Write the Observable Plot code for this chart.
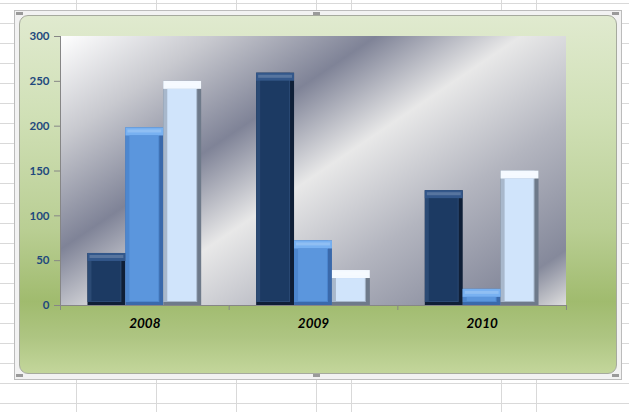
<!DOCTYPE html>
<html>
<head>
<meta charset="utf-8">
<script src="https://cdn.jsdelivr.net/npm/d3@7"></script>
<script src="https://cdn.jsdelivr.net/npm/@observablehq/plot@0.6"></script>
<style>
  html, body { margin: 0; padding: 0; }
  body {
    width: 629px; height: 412px; position: relative; overflow: hidden;
    background: #fff repeating-linear-gradient(to bottom, transparent 0px, transparent 3px, #d9d9d9 3px, #d9d9d9 4px, transparent 4px, transparent 20px);
    font-family: Lato, "Open Sans", sans-serif;
  }
  .vline { position: absolute; top: 0; width: 1px; height: 412px; background: #d9d9d9; }
  #frame { position: absolute; left: 14px; top: 10px; width: 606px; height: 368px; border: 1px solid #bcbcbc; background: #f2f2f2; }
  #area { position: absolute; left: 19px; top: 15px; width: 596px; height: 357px; border: 1px solid #a6aa9e; border-radius: 9px;
    background: linear-gradient(to bottom, #e0eacf 0%, #d0e0b6 28%, #b9ce93 60%, #a0bb6e 80%, #aec582 90%, #c3d69b 100%); }
  #plotbg { position: absolute; left: 60px; top: 36px; width: 506px; height: 269px;
    background: linear-gradient(146deg, #ffffff 0%, #c8c9cf 17%, #7f8397 35%, #e8e8e8 51%, #b3b5bf 70%, #85899b 91%, #dedede 100%); }
  #chart { position: absolute; left: 0; top: 0; }
  g[aria-label="y-axis tick label"] { fill: #1f497d; font-weight: bold; font-size: 11.5px; }
  g[aria-label="fx-axis tick label"] { fill: #000; font-style: italic; font-weight: bold; font-size: 13.5px; }
  .handle { position: absolute; width: 7px; height: 3px;
    background: radial-gradient(circle, #9a9a9a 0.8px, transparent 1.2px) 0 0 / 2px 2px; }
</style>
</head>
<body>
<div id="frame"></div>
<div id="area"></div>
<div id="plotbg"></div>
<div id="chart"></div>
<script>
// ---- data ----
const years = ["2008", "2009", "2010"];
const series = ["Series1", "Series2", "Series3"];
const series1 = [58, 259, 128];
const series2 = [198, 72, 18];
const series3 = [250, 39, 150];
const yTicks = [0, 50, 100, 150, 200, 250, 300];

// spreadsheet column lines (decoration)
[76, 156, 236, 316, 351, 501, 536].forEach(x => {
  const d = document.createElement("div");
  d.className = "vline"; d.style.left = x + "px";
  document.body.insertBefore(d, document.body.firstChild);
});
// selection handles on the chart frame (decoration)
[[16, 12], [313, 12], [612, 12], [16, 374], [313, 374], [612, 374]].forEach(([x, y]) => {
  const d = document.createElement("div");
  d.className = "handle"; d.style.left = x + "px"; d.style.top = y + "px";
  document.body.appendChild(d);
});

const values = [series1, series2, series3];
const table = [];
years.forEach((yr, i) => series.forEach((s, j) => table.push({year: yr, s, v: values[j][i]})));

// per-series bevel palettes
const pal = {
  Series1: {edge: "#0f1f37", left: "#2b4a74", top: "#33578a", body: "#1c3a63"},
  Series2: {edge: "#3a69ab", left: "#4d87cf", top: "#78b1f1", body: "#5b96dd"},
  Series3: {edge: "#6e7a8a", left: "#a8b8cc", top: "#f4f9ff", body: "#d0e4fb"}
};

const W = 629, H = 412, mL = 60, mR = 63, mT = 36, mB = 107;
const padOuter = 0.725;
const facetW = (W - mL - mR) / years.length;
const step = facetW / (series.length + 2 * padOuter);
const edgeOffset = step / 2 + padOuter * step; // band centre -> category edge

const chart = Plot.plot({
  width: W, height: H,
  marginLeft: mL, marginRight: mR, marginTop: mT, marginBottom: mB,
  style: {background: "transparent", color: "#868686", fontFamily: "Lato, 'Open Sans', sans-serif", overflow: "visible"},
  fx: {domain: years, padding: 0, label: null, axis: "bottom", tickSize: 0, tickPadding: 13, round: false},
  x: {domain: series, paddingInner: 0, paddingOuter: padOuter, axis: null, round: false},
  y: {domain: [0, 300], ticks: yTicks, tickSize: 6, tickPadding: 5, label: null, line: true},
  color: {type: "identity"},
  marks: [
    // bar layers (bevel look)
    Plot.barY(table, {fx: "year", x: "s", y1: 0, y2: "v", fill: d => pal[d.s].edge}),
    Plot.barY(table, {fx: "year", x: "s", y1: 0, y2: "v", insetRight: 4, insetBottom: 3, fill: d => pal[d.s].left}),
    Plot.barY(table, {fx: "year", x: "s", y1: "v", y2: "v", insetBottom: -8, fill: d => pal[d.s].top}),
    Plot.barY(table, {fx: "year", x: "s", y1: "v", y2: "v", insetTop: 2, insetBottom: -5, insetLeft: 2, insetRight: 2, fill: "#ffffff", fillOpacity: 0.18}),
    Plot.barY(table, {fx: "year", x: "s", y1: 0, y2: "v", insetLeft: 4, insetRight: 5, insetTop: 8, insetBottom: 4, fill: d => pal[d.s].body}),
    // x axis line
    Plot.ruleY([0], {stroke: "#868686"}),
    // category boundary ticks (left edge of every category, right edge of the last)
    Plot.ruleX(years, {fx: d => d, x: () => series[0], dx: -edgeOffset,
      y1: 0, y2: 0, insetBottom: -5, stroke: "#868686"}),
    Plot.ruleX(years.slice(-1), {fx: d => d, x: () => series[series.length - 1], dx: edgeOffset,
      y1: 0, y2: 0, insetBottom: -5, stroke: "#868686"})
  ]
});

document.getElementById("chart").appendChild(chart);
</script>
</body>
</html>
